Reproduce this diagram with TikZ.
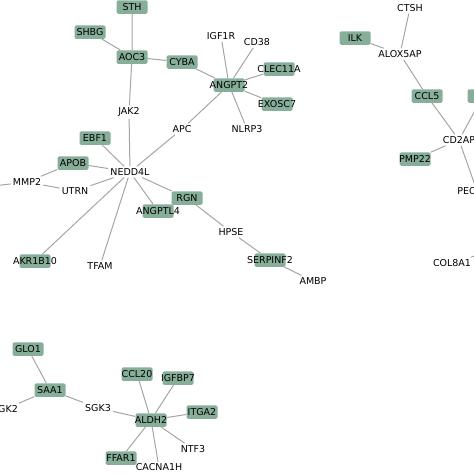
\documentclass[tikz,border=0pt]{standalone}
\usepackage{fontspec}
\setmainfont{DejaVu Sans}
\definecolor{hitgreen}{RGB}{134,174,153}
\definecolor{edgegray}{RGB}{165,165,165}
\tikzset{
  hit/.style={fill=hitgreen, rounded corners=1.5pt, minimum width=31pt, minimum height=13.5pt, inner sep=0pt},
  gene/.style={font=\fontsize{9.5}{10}\selectfont, inner sep=2pt},
  link/.style={draw=edgegray, line width=1pt}
}
% green box with its label on top
\newcommand\hitnode[3]{\node[hit] (#1) at (#2) {}; \node[gene] at (#1) {#3};}

\begin{document}
\begin{tikzpicture}[x=1pt, y=-1pt]
  \useasboundingbox (0,0) rectangle (474,474);
  \clip (0,0) rectangle (474,474);

  % NEDD4L cluster
  \hitnode{sth}{132,7}{STH}
  \hitnode{shbg}{90,32}{SHBG}
  \hitnode{aoc3}{132,57}{AOC3}
  \hitnode{cyba}{182,62}{CYBA}
  \hitnode{angpt2}{229,85}{ANGPT2}
  \hitnode{clec}{279,69}{CLEC11A}
  \hitnode{exosc}{277,104}{EXOSC7}
  \hitnode{ebf1}{95,138}{EBF1}
  \hitnode{apob}{73,163}{APOB}
  \hitnode{rgn}{187,198}{RGN}
  \hitnode{angptl4}{158,211}{ANGPTL4}
  \hitnode{akr}{35,261}{AKR1B10}
  \hitnode{serpin}{270,260}{SERPINF2}
  \node[gene] (igf1r) at (221,36) {IGF1R};
  \node[gene] (cd38) at (257,42) {CD38};
  \node[gene] (nlrp3) at (247,129) {NLRP3};
  \node[gene] (jak2) at (129,112) {JAK2};
  \node[gene] (apc) at (182,129) {APC};
  \node[gene] (nedd) at (130,172) {NEDD4L};
  \node[gene] (mmp2) at (27,182) {MMP2};
  \node[gene] (utrn) at (75,191) {UTRN};
  \node[gene] (hpse) at (231,232) {HPSE};
  \node[gene] (tfam) at (100,266) {TFAM};
  \node[gene] (ambp) at (313,281) {AMBP};
  \coordinate (mmpout) at (-40,190);

  \draw[link] (sth) -- (aoc3) -- (cyba) -- (angpt2);
  \draw[link] (shbg) -- (aoc3) -- (jak2) -- (nedd);
  \draw[link] (igf1r) -- (angpt2) -- (cd38);
  \draw[link] (clec) -- (angpt2) -- (exosc);
  \draw[link] (nlrp3) -- (angpt2) -- (apc) -- (nedd);
  \draw[link] (ebf1) -- (nedd) -- (apob) -- (mmp2) -- (utrn) -- (nedd);
  \draw[link] (mmp2) -- (mmpout);
  \draw[link] (rgn) -- (nedd) -- (angptl4);
  \draw[link] (akr) -- (nedd) -- (tfam);
  \draw[link] (rgn) -- (hpse) -- (serpin) -- (ambp);

  % CD2AP cluster
  \hitnode{ilk}{355,38}{ILK}
  \hitnode{ccl5}{427,96}{CCL5}
  \hitnode{pmp22}{415,159}{PMP22}
  \node[hit] (rbox) at (483,96) {};
  \node[gene] (ctsh) at (410,8) {CTSH};
  \node[gene] (alox) at (400,54) {ALOX5AP};
  \node[gene] (cd2ap) at (459,140) {CD2AP};
  \node[gene] (pecam) at (477,191) {PECAM1};
  \node[gene] (col8a1) at (452,263) {COL8A1};
  \coordinate (colout) at (510,245);

  \draw[link] (ctsh) -- (alox) -- (ilk);
  \draw[link] (alox) -- (ccl5) -- (cd2ap) -- (rbox);
  \draw[link] (pmp22) -- (cd2ap) -- (pecam);
  \draw[link] (col8a1) -- (colout);

  % ALDH2 cluster
  \hitnode{glo1}{28,349}{GLO1}
  \hitnode{saa1}{50,390}{SAA1}
  \hitnode{ccl20}{137,374}{CCL20}
  \hitnode{igfbp7}{178,378}{IGFBP7}
  \hitnode{aldh2}{151,420}{ALDH2}
  \hitnode{itga2}{202,412}{ITGA2}
  \hitnode{ffar1}{121,458}{FFAR1}
  \node[gene] (sgk2) at (5,409) {SGK2};
  \node[gene] (sgk3) at (98,408) {SGK3};
  \node[gene] (ntf3) at (193,449) {NTF3};
  \node[gene] (cacna) at (159,467.5) {CACNA1H};

  \draw[link] (glo1) -- (saa1) -- (sgk2);
  \draw[link] (saa1) -- (sgk3) -- (aldh2);
  \draw[link] (ccl20) -- (aldh2) -- (igfbp7);
  \draw[link] (itga2) -- (aldh2) -- (ntf3);
  \draw[link] (ffar1) -- (aldh2) -- (cacna);
\end{tikzpicture}
\end{document}
